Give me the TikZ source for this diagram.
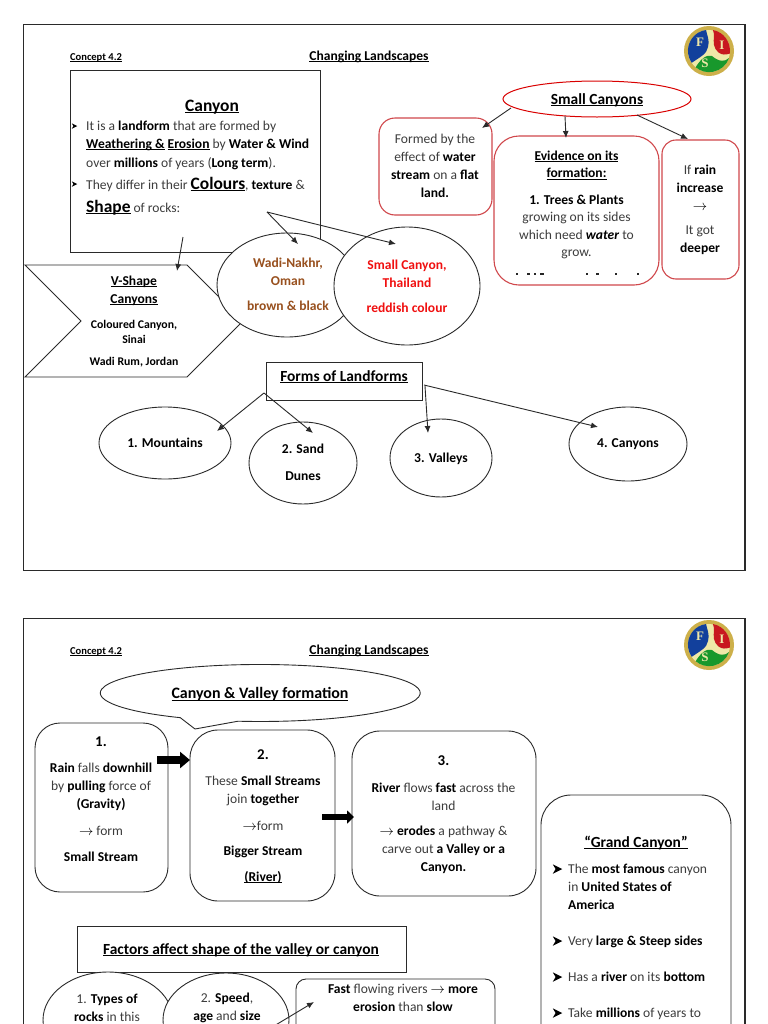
\documentclass[tikz,border=0pt]{standalone}
\usepackage{fontspec}
\setmainfont{Carlito}
\newfontfamily\lser{Liberation Serif}
\usetikzlibrary{arrows.meta,shapes.geometric}
\definecolor{ink}{HTML}{3C3C3C}
\definecolor{ln}{HTML}{2A2A2A}
\definecolor{rd}{HTML}{D0484C}
\definecolor{brn}{HTML}{98501E}
\definecolor{redt}{HTML}{F01010}
\definecolor{gold}{HTML}{CDB04A}
\definecolor{pale}{HTML}{EFE8A8}
\definecolor{lblue}{HTML}{12409C}
\definecolor{lred}{HTML}{C81820}
\definecolor{lgreen}{HTML}{18982C}
\newcommand\bb[1]{\textbf{\color{black}#1}}
\newcommand\ulx[1]{\setbox0\hbox{#1}\rlap{\color{black}\rule[-1.7pt]{\wd0}{0.85pt}}\box0\relax}
\newcommand\arw{$\rightarrow$}
\newcommand\bulat[3]{\fill[black,shift={(#1,#2)},scale=#3] (-5,-5) -- (5,0) -- (-5,5) -- (-2,0) -- cycle;}
\tikzset{
  x=1bp,y=-1bp,
  body/.style={font=\fontsize{13.6}{18}\selectfont,align=center,inner sep=0pt,text=ink},
  small/.style={font=\fontsize{11.8}{15}\selectfont,align=center,inner sep=0pt,text=black},
  lead/.style={font=\fontsize{13.6}{18}\selectfont,inner sep=0pt,text=ink,anchor=base west},
  title/.style={font=\bfseries\fontsize{15.5}{18}\selectfont,inner sep=0pt,text=black,align=center},
  frame/.style={draw=ln,line width=0.9bp},
  box/.style={draw=ln,fill=white,line width=0.9bp},
  rbox/.style={draw=ln,fill=white,line width=0.9bp},
  redbox/.style={draw=rd,fill=white,line width=1.1bp},
  oval/.style={draw=ln,fill=white,line width=0.9bp},
  conn/.style={draw=ln,line width=0.9bp,-{Latex[length=7bp,width=6bp]}},
  fat/.style={draw=black,line width=7.5bp,-{Triangle[length=10bp,width=16bp]}},
  fatb/.style={draw=black,line width=6.5bp,-{Triangle[length=7bp,width=13bp]}},
}
\newcommand\logoat[2]{%
  \begin{scope}[shift={(#1,#2)}]
    \fill[gold] (0,0) circle[radius=25];
    \fill[pale] (0,0) circle[radius=21];
    \fill[lblue] (-3,-21) arc[start angle=-98,end angle=-215,radius=21]
       .. controls (-9,6) and (-2,3) .. (-1,-4) .. controls (1,-10) and (-2,-16) .. (-3,-21);
    \fill[lred] (4,-21) arc[start angle=-79,end angle=8,radius=21]
       .. controls (12,6) and (6,0) .. (5,-6) .. controls (4,-12) and (6,-16) .. (4,-21);
    \fill[lgreen] (20,7) arc[start angle=19,end angle=130,radius=21]
       .. controls (-9,9) and (-3,3) .. (3,5) .. controls (10,11) and (16,11) .. (20,7);
    \node[inner sep=0pt,text=pale,font=\lser\bfseries\fontsize{13}{13}\selectfont] at (-9,-9) {F};
    \node[inner sep=0pt,text=pale,font=\lser\bfseries\fontsize{13}{13}\selectfont] at (13,-6) {I};
    \node[inner sep=0pt,text=pale,font=\lser\bfseries\fontsize{13}{13}\selectfont] at (-4,12) {S};
  \end{scope}}
\begin{document}
\begin{tikzpicture}
\clip (0,0) rectangle (768,1024);
\fill[white] (0,0) rectangle (768,1024);

% ---------- frame 1
\draw[frame] (23.5,24) rectangle (745,570.5);
\draw[ln,line width=1.8bp] (745,24) -- (745,570.5);
\logoat{709}{51}
\node[inner sep=0pt,font=\bfseries\fontsize{10.6}{12}\selectfont,text=black] (c1) at (96,57.5) {\ulx{Concept 4.2}};
\node[title,font=\bfseries\fontsize{13.6}{15}\selectfont] (h1) at (369,57) {\ulx{Changing Landscapes}};

% Canyon box
\draw[box] (70,70) rectangle (320.5,252);
\node[title,font=\bfseries\fontsize{17.5}{20}\selectfont] (cany) at (212,107) {\ulx{Canyon}};
\node[lead] (l1) at (86,130) {It is a \bb{landform} that are formed by};
\node[lead] (l2) at (86,148) {\bb{\ulx{Weathering \&} \ulx{Erosion}} by \bb{Water \& Wind}};
\node[lead] (l3) at (86,167) {over \bb{millions} of years (\bb{Long term}).};
\node[lead] (l4) at (86,189) {They differ in their \bb{\fontsize{17.5}{18}\selectfont\ulx{Colours}}, \bb{texture} \&};
\node[lead] (l5) at (86,212) {\bb{\fontsize{17.5}{18}\selectfont\ulx{Shape}} of rocks:};
\bulat{74.5}{126}{0.55}
\bulat{74.5}{184}{0.55}

% V-shape
\draw[box] (25,265) -- (187,265) -- (243,321) -- (187,377) -- (25,377) -- (81,321) -- cycle;
\node[title,font=\bfseries\fontsize{13.6}{18}\selectfont] (v1) at (134,290.5) {\ulx{V-Shape}\\\ulx{Canyons}};
\node[small,font=\bfseries\fontsize{11.8}{15}\selectfont] (v2) at (134,331.5) {Coloured Canyon,\\Sinai};
\node[small,font=\bfseries\fontsize{11.8}{15}\selectfont] (v3) at (134,362) {Wadi Rum, Jordan};

% Ellipses
\draw[oval] (287,285) ellipse[x radius=70,y radius=52];
\coordinate (wadi) at (287,285);
\draw[oval] (407,286) ellipse[x radius=73,y radius=59];
\coordinate (thai) at (407,286);
\node[body,text=brn,font=\bfseries\fontsize{13.6}{18.5}\selectfont] (w1) at (288,284) {Wadi-Nakhr,\\Oman\\[6pt]brown \& black};
\node[body,text=redt,font=\bfseries\fontsize{13.6}{18}\selectfont] (w2) at (407,286) {Small Canyon,\\Thailand\\[7pt]reddish colour};

\coordinate (cf) at (267,212);
\coordinate (wt) at (298,244);
\coordinate (tt) at (396,244);
\coordinate (cd) at (183,237);
\coordinate (vt) at (177,271);
\draw[conn] (cf) -- (wt);
\draw[conn] (cf) -- (tt);
\draw[conn] (cd) -- (vt);

% Small canyons
\draw[draw=red!85!black,fill=white,line width=1bp] (597,99) ellipse[x radius=94,y radius=18];
\node[title] (sc) at (597,100) {\ulx{Small Canyons}};
\draw[redbox,rounded corners=16bp] (379,118) rectangle (492,215);
\draw[redbox,rounded corners=25bp] (494,136) rectangle (659,285);
\draw[redbox,rounded corners=14bp] (662,140) rectangle (739,279);
\node[body] (s1) at (435,166) {Formed by the\\effect of \bb{water}\\\bb{stream} on a \bb{flat}\\\bb{land.}};
\node[body,font=\fontsize{13.6}{17.5}\selectfont] (s2) at (576.5,205) {\bb{\ulx{Evidence on its}}\\\bb{\ulx{formation:}}\\[9pt]\bb{1. Trees \& Plants}\\growing on its sides\\which need \bb{\textit{water}} to\\grow.};
\node[body] (s3) at (700,187.5) {If \bb{rain}\\\bb{increase}\\\color{black}\arw};
\node[body] (s4) at (700,240.5) {It got\\\bb{deeper}};
\foreach \xa/\xb in {516/517.5,527/530,534/536,540/544,586/587.5,596/599,615/616.5,637/638.5}
  \fill[black!85] (\xa,272.5) rectangle (\xb,274.5);

\coordinate (sa1) at (511,108); \coordinate (sb1) at (482,128);
\coordinate (sa2) at (565,116); \coordinate (sb2) at (566,138);
\coordinate (sa3) at (637,115); \coordinate (sb3) at (688,139);
\draw[conn] (sa1) -- (sb1);
\draw[conn] (sa2) -- (sb2);
\draw[conn] (sa3) -- (sb3);

% Forms of landforms
\draw[box] (266,362) rectangle (422,400);
\node[title] (ff) at (344,377) {\ulx{Forms of Landforms}};
\draw[oval] (165,443) ellipse[x radius=66,y radius=36];
\draw[oval] (303,463) ellipse[x radius=54,y radius=41];
\draw[oval] (441,458) ellipse[x radius=51,y radius=39];
\draw[oval] (628,444) ellipse[x radius=59,y radius=37];
\node[body,font=\bfseries\fontsize{13.6}{18}\selectfont,text=black] (f1) at (165,442.5) {1. Mountains};
\node[body,font=\bfseries\fontsize{13.6}{27}\selectfont,text=black] (f2) at (303,462.5) {2. Sand\\Dunes};
\node[body,font=\bfseries\fontsize{13.6}{18}\selectfont,text=black] (f3) at (441,458.5) {3. Valleys};
\node[body,font=\bfseries\fontsize{13.6}{18}\selectfont,text=black] (f4) at (628,444) {4. Canyons};
\coordinate (fa1) at (264,393); \coordinate (fb1) at (217,431);
\coordinate (fb2) at (313,433);
\coordinate (fa3) at (425,386); \coordinate (fb3) at (428,433);
\coordinate (fa4) at (424,385); \coordinate (fb4) at (598,427);
\draw[conn] (fa1) -- (fb1);
\draw[conn] (fa1) -- (fb2);
\draw[conn] (fa3) -- (fb3);
\draw[conn] (fa4) -- (fb4);

% ---------- frame 2
\draw[frame] (23.5,618) rectangle (745,1040);
\draw[ln,line width=1.8bp] (745,618) -- (745,1040);
\logoat{709}{645}
\node[inner sep=0pt,font=\bfseries\fontsize{10.6}{12}\selectfont,text=black] (c2) at (96,651.5) {\ulx{Concept 4.2}};
\node[title,font=\bfseries\fontsize{13.6}{15}\selectfont] (h2) at (369,651) {\ulx{Changing Landscapes}};

\draw[oval] (238,721.2) arc[start angle=98,end angle=-240,x radius=160,y radius=28.5] -- (195,729) -- cycle;
\node[title,font=\bfseries\fontsize{16}{18}\selectfont] (cv) at (260,694.5) {\ulx{Canyon \& Valley formation}};

\draw[rbox,rounded corners=25bp] (35,723) rectangle (168,892);
\draw[rbox,rounded corners=28bp] (190,730) rectangle (335,901);
\draw[rbox,rounded corners=28bp] (352,731) rectangle (536,896);
\coordinate (a1) at (157,760); \coordinate (a2) at (190,760);
\coordinate (a3) at (322,817); \coordinate (a4) at (354,817);
\draw[fat] (a1) -- (a2);
\draw[fatb] (a3) -- (a4);

\node[title,font=\bfseries\fontsize{15}{18}\selectfont] (n1) at (101,742) {1.};
\node[body] (p1) at (101,787) {\bb{Rain} falls \bb{downhill}\\by \bb{pulling} force of\\\bb{(Gravity)}};
\node[body] (p1b) at (101,831) {\color{black}\arw{} \color{ink}form};
\node[body] (p1c) at (101,857) {\bb{Small Stream}};

\node[title,font=\bfseries\fontsize{15}{18}\selectfont] (n2) at (263,755) {2.};
\node[body] (p2) at (263,791) {These \bb{Small Streams}\\join \bb{together}};
\node[body] (p2b) at (263,826) {\color{black}\arw\color{ink}form};
\node[body] (p2c) at (263,851.5) {\bb{Bigger Stream}};
\node[body] (p2d) at (263,877) {\bb{\ulx{(River)}}};

\node[title,font=\bfseries\fontsize{15}{18}\selectfont] (n3) at (443.5,761) {3.};
\node[body] (p3) at (443.5,797) {\bb{River} flows \bb{fast} across the\\land};
\node[body] (p3b) at (443.5,849.5) {\color{black}\arw{} \bb{erodes} \color{ink}a pathway \&\\carve out \bb{a Valley or a}\\\bb{Canyon.}};

% Grand Canyon
\draw[rbox,rounded corners=30bp] (541,795) rectangle (731,1060);
\node[title,font=\bfseries\fontsize{15.5}{18}\selectfont] (gc) at (636,843) {\ulx{“Grand Canyon”}};
\node[lead] (g1) at (568,873.5) {The \bb{most famous} canyon};
\node[lead] (g2) at (568,891.5) {in \bb{United States of}};
\node[lead] (g3) at (568,909.5) {\bb{America}};
\node[lead] (g4) at (568,945) {Very \bb{large \& Steep sides}};
\node[lead] (g5) at (568,981) {Has a \bb{river} on its \bb{bottom}};
\node[lead] (g6) at (568,1017) {Take \bb{millions} of years to};
\bulat{557.5}{869}{0.95}
\bulat{557.5}{941}{0.95}
\bulat{557.5}{977}{0.95}
\bulat{557.5}{1013}{0.95}

% Factors
\draw[box] (77,926) rectangle (406,972);
\node[title,font=\bfseries\fontsize{15.5}{18}\selectfont] (fc) at (241,950) {\ulx{Factors affect shape of the valley or canyon}};
\draw[oval] (108,1020) ellipse[x radius=65,y radius=48];
\draw[oval] (226,1020) ellipse[x radius=63,y radius=47];
\draw[rbox,rounded corners=10bp] (296,979) rectangle (495,1040);
\node[body] (k1) at (107,1008) {1. \bb{Types of}\\\bb{rocks} in this};
\node[body] (k2) at (227,1008) {2. \bb{Speed},\\\bb{age} and \bb{size}};
\node[body] (k3) at (403,998) {\bb{Fast} flowing rivers \color{black}\arw{} \bb{more}\\\bb{erosion} \color{ink}than \bb{slow}};
\coordinate (ka) at (274,1026); \coordinate (kb) at (314,1002);
\draw[conn] (ka) -- (kb);
\end{tikzpicture}
\end{document}
